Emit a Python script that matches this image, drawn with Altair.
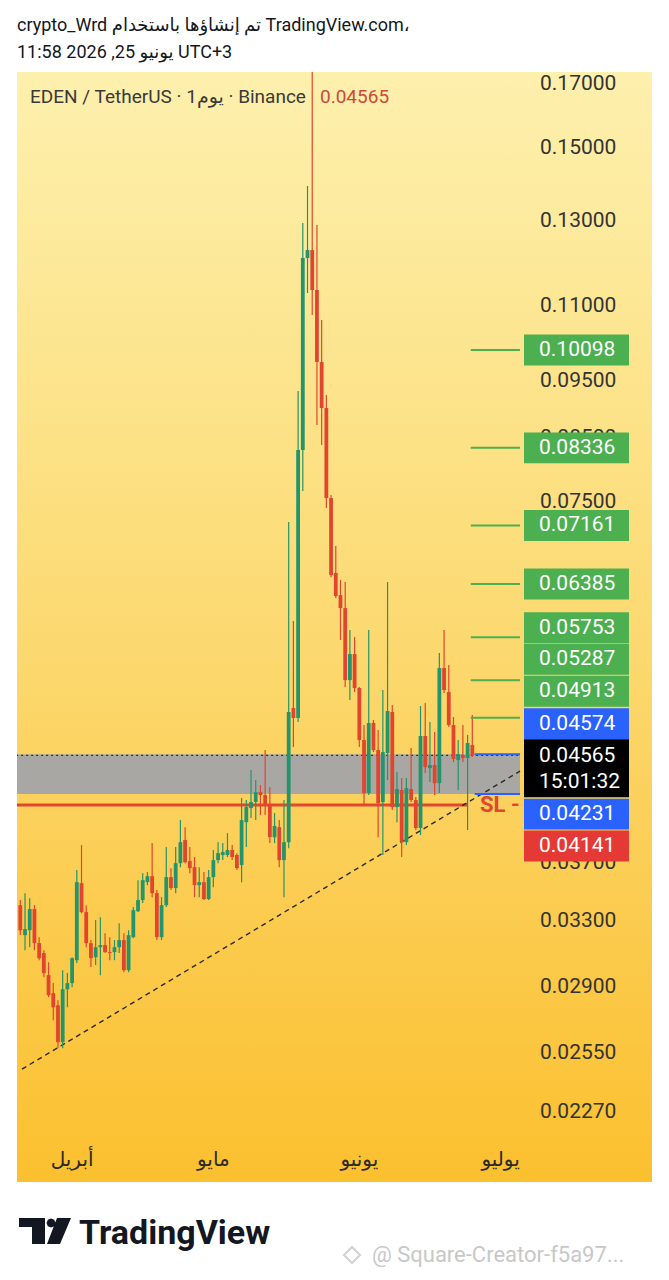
import altair as alt
import pandas as pd
import numpy as np

# ---------------- data ----------------
dates = pd.date_range("2026-03-21", "2026-06-25", freq="D").strftime("%Y-%m-%d").tolist()

opens = [0.03404, 0.03210, 0.03241, 0.03378, 0.03160, 0.03099, 0.02968, 0.02865, 0.02798, 0.02603,
         0.02887, 0.02922, 0.03056, 0.03554, 0.03358, 0.03160, 0.03074, 0.03135, 0.03148, 0.03105,
         0.03105, 0.03135, 0.03179, 0.02997, 0.03197, 0.03364, 0.03438, 0.03561, 0.03603, 0.03485,
         0.03197, 0.03404, 0.03596, 0.03520, 0.03696, 0.03867, 0.03711, 0.03667, 0.03540, 0.03561,
         0.03445, 0.03596, 0.03718, 0.03755, 0.03755, 0.03792, 0.03755, 0.03682, 0.04005, 0.04117,
         0.04166, 0.04248, 0.04223, 0.04141, 0.03889, 0.03966, 0.03718, 0.03851, 0.05008, 0.04911,
         0.08301, 0.12090, 0.12281, 0.11356, 0.09862, 0.09013, 0.07556, 0.06524, 0.06248, 0.06091,
         0.05290, 0.05566, 0.05208, 0.04704, 0.04240, 0.04863, 0.04612, 0.04166, 0.04585, 0.04969,
         0.04125, 0.04265, 0.03851, 0.04273, 0.04182, 0.03959, 0.04741, 0.04452, 0.04479, 0.04323,
         0.05416, 0.05167, 0.04844, 0.04523, 0.04567, 0.04541, 0.04658]
highs = [0.03438, 0.03485, 0.03451, 0.03404, 0.03197, 0.03117, 0.03044, 0.02922, 0.02826, 0.02997,
         0.02980, 0.03074, 0.03646, 0.03829, 0.03404, 0.03179, 0.03306, 0.03325, 0.03222, 0.03197,
         0.03179, 0.03286, 0.03222, 0.03241, 0.03391, 0.03575, 0.03624, 0.03632, 0.03844, 0.03506,
         0.03458, 0.03814, 0.03660, 0.03814, 0.04021, 0.03966, 0.03814, 0.03740, 0.03667, 0.03632,
         0.03646, 0.03792, 0.03851, 0.03844, 0.03920, 0.03829, 0.03769, 0.04198, 0.04182, 0.04435,
         0.04349, 0.04307, 0.04612, 0.04290, 0.04077, 0.04021, 0.04182, 0.07209, 0.05938, 0.09318,
         0.12948, 0.13922, 0.17850, 0.12897, 0.10708, 0.09245, 0.07600, 0.06878, 0.06435, 0.06410,
         0.05834, 0.05755, 0.05218, 0.04844, 0.05834, 0.04892, 0.04797, 0.05188, 0.06410, 0.05037,
         0.04418, 0.04366, 0.04366, 0.04630, 0.04207, 0.05028, 0.05057, 0.04872, 0.04778, 0.05577,
         0.05834, 0.05448, 0.04921, 0.04704, 0.04844, 0.04750, 0.04940]
lows = [0.03210, 0.03117, 0.03135, 0.03117, 0.03056, 0.02956, 0.02843, 0.02717, 0.02572, 0.02572,
        0.02787, 0.02899, 0.03039, 0.03350, 0.03135, 0.03015, 0.03027, 0.02968, 0.03099, 0.03056,
        0.03056, 0.03099, 0.02985, 0.02985, 0.03191, 0.03358, 0.03418, 0.03540, 0.03458, 0.03179,
        0.03179, 0.03391, 0.03506, 0.03485, 0.03667, 0.03696, 0.03624, 0.03458, 0.03458, 0.03438,
        0.03438, 0.03526, 0.03696, 0.03718, 0.03740, 0.03718, 0.03646, 0.03561, 0.03814, 0.04037,
        0.04021, 0.04061, 0.04061, 0.03844, 0.03844, 0.03667, 0.03458, 0.03806, 0.04640, 0.04872,
        0.07660, 0.11289, 0.10813, 0.08717, 0.08383, 0.07409, 0.06470, 0.06212, 0.05721, 0.05218,
        0.05087, 0.05167, 0.04640, 0.04141, 0.04223, 0.04594, 0.03889, 0.03755, 0.04349, 0.04101,
        0.04005, 0.03740, 0.03829, 0.04166, 0.03943, 0.03905, 0.04409, 0.04332, 0.04223, 0.04240,
        0.05157, 0.04825, 0.04505, 0.04265, 0.04505, 0.03943, 0.04550]
closes = [0.03241, 0.03248, 0.03378, 0.03160, 0.03068, 0.02980, 0.02854, 0.02787, 0.02603, 0.02887,
          0.02922, 0.03068, 0.03561, 0.03358, 0.03160, 0.03068, 0.03135, 0.03148, 0.03105, 0.03099,
          0.03135, 0.03179, 0.02997, 0.03210, 0.03371, 0.03438, 0.03575, 0.03603, 0.03485, 0.03197,
          0.03404, 0.03596, 0.03520, 0.03696, 0.03851, 0.03703, 0.03660, 0.03540, 0.03561, 0.03445,
          0.03596, 0.03718, 0.03769, 0.03777, 0.03792, 0.03740, 0.03660, 0.04021, 0.04125, 0.04166,
          0.04248, 0.04223, 0.04141, 0.03889, 0.03974, 0.03718, 0.03851, 0.04969, 0.04911, 0.08301,
          0.12090, 0.12281, 0.11356, 0.09862, 0.09013, 0.07556, 0.06498, 0.06236, 0.06091, 0.05290,
          0.05566, 0.05208, 0.04704, 0.04240, 0.04863, 0.04612, 0.04157, 0.04594, 0.04979, 0.04125,
          0.04273, 0.03851, 0.04281, 0.04182, 0.03959, 0.04741, 0.04461, 0.04479, 0.04323, 0.05416,
          0.05188, 0.04844, 0.04532, 0.04576, 0.04541, 0.04676, 0.04565]

month_names = ["أبريل", "مايو", "يونيو", "يوليو"]
month_starts = ["2026-04-01", "2026-05-01", "2026-06-01", "2026-07-01"]

axis_ticks = [0.17, 0.15, 0.13, 0.11, 0.095, 0.085, 0.075, 0.037, 0.033, 0.029, 0.0255, 0.0227]

target_prices = [0.10098, 0.08336, 0.07161, 0.06385, 0.05753, 0.05287, 0.04913]
entry_price = 0.04574
zone_low = 0.04231
stop_loss = 0.04141
last_price = 0.04565
countdown = "15:01:32"

trend_dates = ["2026-03-21T08:38", "2026-07-05T03:07"]
trend_prices = [0.02469, 0.04426]

header_1 = "crypto_Wrd تم إنشاؤها باستخدام TradingView.com،"
header_2 = "11:58 2026 ,25 يونيو UTC+3"
legend_text = "EDEN / TetherUS · 1يوم · Binance"
watermark = "@ Square-Creator-f5a97..."

# ---------------- layout / style ----------------
W, H = 635, 1110
ORIGIN = pd.Timestamp("2026-04-01")


def day(s):
    return (pd.Timestamp(s) - ORIGIN) / pd.Timedelta(days=1)


view_start, view_end = "2026-03-21T08:38", "2026-08-01T02:24"
tool_start, tool_end = "2026-06-24T16:00", "2026-07-05T03:07"
blue_start = "2026-06-25T12:00"
sl_end = "2026-06-24T01:00"
far_left = "2026-03-01"

UP, DOWN = "#22956c", "#e2452f"
GREEN, BLUE, REDBOX = "#4caf50", "#2962ff", "#e53935"
FONT = "Roboto, DejaVu Sans"

xscale = alt.Scale(domain=[day(view_start), day(view_end)], nice=False, zero=False)
yscale = alt.Scale(type="log", domain=[0.019793, 0.17405], nice=False)


def X(f):
    return alt.X(f, type="quantitative", scale=xscale, axis=None)


def Y(f):
    return alt.Y(f, type="quantitative", scale=yscale, axis=None)


df = pd.DataFrame(dict(date=dates, open=opens, high=highs, low=lows, close=closes))
df["day"] = [day(s) for s in df["date"]]
df["dir"] = np.where(df["close"] >= df["open"], "up", "down")
color = alt.Color("dir:N", scale=alt.Scale(domain=["up", "down"], range=[UP, DOWN]), legend=None)

one = pd.DataFrame({"a": [0]})

bg = alt.Chart(one).mark_rect(
    fill=alt.Gradient(gradient="linear", x1=0, x2=0, y1=0, y2=1,
                      stops=[alt.GradientStop(color="#fdf0ad", offset=0),
                             alt.GradientStop(color="#fcdc78", offset=0.45),
                             alt.GradientStop(color="#fbcc50", offset=0.75),
                             alt.GradientStop(color="#fbc02f", offset=1)])
).encode(x=alt.value(0), x2=alt.value(W), y=alt.value(0), y2=alt.value(H))

zone = alt.Chart(pd.DataFrame({"x0": [day(far_left)], "x1": [day(tool_end)],
                               "top": [entry_price], "bottom": [zone_low]})).mark_rect(
    color="#a8a7a3", clip=True).encode(x=X("x0"), x2="x1", y=Y("top"), y2="bottom")

last_line = alt.Chart(pd.DataFrame({"x0": [day(far_left)], "x1": [day(tool_end)], "p": [last_price]})).mark_rule(
    color="#111111", strokeDash=[2, 3], strokeWidth=1, clip=True).encode(x=X("x0"), x2="x1", y=Y("p"))

sl_line = alt.Chart(pd.DataFrame({"x0": [day(far_left)], "x1": [day(sl_end)], "p": [stop_loss]})).mark_rule(
    color="#e2462f", strokeWidth=3, clip=True).encode(x=X("x0"), x2="x1", y=Y("p"))

trend = alt.Chart(pd.DataFrame({"d": [day(s) for s in trend_dates], "p": trend_prices})).mark_line(
    color="#2a2a2a", strokeDash=[5, 4], strokeWidth=1.4, clip=True).encode(x=X("d"), y=Y("p"))

base = alt.Chart(df)
wicks = base.mark_rule(strokeWidth=1.2, clip=True).encode(x=X("day"), y=Y("low"), y2="high", color=color)
bodies = base.mark_bar(width=3.8, clip=True).encode(x=X("day"), y=Y("open"), y2="close", color=color)

months = alt.Chart(pd.DataFrame({"d": [day(s) for s in month_starts], "m": month_names})).mark_text(
    align="center", baseline="middle", font="DejaVu Sans", fontSize=20, color="#2b2b2b").encode(
    x=X("d"), y=alt.value(1088), text="m:N")

tgt = alt.Chart(pd.DataFrame({"x0": day(tool_start), "x1": day(tool_end), "p": target_prices})).mark_rule(
    color=GREEN, strokeWidth=2).encode(x=X("x0"), x2="x1", y=Y("p"))
blue = alt.Chart(pd.DataFrame({"x0": day(blue_start), "x1": day(tool_end), "p": [entry_price, zone_low]})).mark_rule(
    color=BLUE, strokeWidth=2).encode(x=X("x0"), x2="x1", y=Y("p"))

ticks = alt.Chart(pd.DataFrame({"v": axis_ticks})).mark_text(
    align="left", baseline="middle", font=FONT, fontSize=21, color="#333333").encode(
    x=alt.value(523), y=Y("v"), text=alt.Text("v:Q", format=".5f"))

# price label boxes on the scale (price, colour, vertical nudge in px to avoid overlap)
label_prices = target_prices + [entry_price, zone_low, stop_loss]
label_colors = [GREEN] * 7 + [BLUE, BLUE, REDBOX]
label_nudge_px = [0, 0, 0, 0, -9.5, -21, -26.5, -30.5, 20, 41]
BOX = "M-1,-0.295L1,-0.295L1,0.295L-1,0.295Z"
BOX2 = "M-1,-0.552L1,-0.552L1,0.552L-1,0.552Z"

box_layers = []
for p, c, n in zip(label_prices, label_colors, label_nudge_px):
    d1 = alt.Chart(pd.DataFrame({"p": [p], "t": [f"{p:.5f}"]}))
    box_layers.append(d1.mark_point(shape=BOX, size=11025, filled=True, fill=c, opacity=1,
                                    strokeWidth=0, yOffset=n).encode(x=alt.value(559.5), y=Y("p")))
    box_layers.append(d1.mark_text(align="left", baseline="middle", font=FONT, fontSize=21,
                                   color="white", yOffset=n).encode(x=alt.value(522), y=Y("p"), text="t:N"))

dl = alt.Chart(pd.DataFrame({"p": [last_price], "t": [f"{last_price:.5f}"], "c": [countdown]}))
box_layers.append(dl.mark_point(shape=BOX2, size=11025, filled=True, fill="#000000", opacity=1,
                                strokeWidth=0, yOffset=13).encode(x=alt.value(559.5), y=Y("p")))
box_layers.append(dl.mark_text(align="left", baseline="middle", font=FONT, fontSize=21,
                               color="white", yOffset=1).encode(x=alt.value(522), y=Y("p"), text="t:N"))
box_layers.append(dl.mark_text(align="left", baseline="middle", font=FONT, fontSize=21,
                               color="white", yOffset=27).encode(x=alt.value(522), y=Y("p"), text="c:N"))

sl_text = alt.Chart(pd.DataFrame({"p": [stop_loss], "t": ["SL -"]})).mark_text(
    align="left", baseline="middle", font=FONT, fontSize=22, fontWeight="bold", color="#e2462f").encode(
    x=alt.value(463), y=Y("p"), text="t:N")


def txt(t, x, y, **kw):
    return alt.Chart(pd.DataFrame({"t": [t]})).mark_text(align="left", **kw).encode(
        x=alt.value(x), y=alt.value(y), text="t:N")


legend = txt(legend_text, 13, 25, baseline="middle", font=FONT, fontSize=19, color="#3a3a3a")
legend_price = txt(f"{last_price:.5f}", 303, 25, baseline="middle", font=FONT, fontSize=19, color="#cc4a3a")
h1 = txt(header_1, 0, -46, baseline="middle", font=FONT, fontSize=18, color="#131722")
h2 = txt(header_2, 0, -19, baseline="middle", font=FONT, fontSize=18, color="#131722")

LOGO = ("M-1,-0.5L0,-0.5L0,0.5L-0.5,0.5L-0.5,-0.154L-1,-0.154Z "
        "M0.404,-0.308L0.353,-0.186L0.231,-0.135L0.109,-0.186L0.058,-0.308L0.109,-0.43L0.231,-0.481L0.353,-0.43Z "
        "M0.462,-0.5L1,-0.5L0.577,0.5L0.077,0.5Z")
logo = alt.Chart(one).mark_point(shape=LOGO, size=2704, filled=True, fill="#131722", opacity=1,
                                 strokeWidth=0).encode(x=alt.value(28), y=alt.value(1159))
tv = txt("TradingView", 62, 1172, baseline="alphabetic", font="Roboto", fontWeight="bold",
         fontSize=34, color="#131722")
wm_icon = alt.Chart(one).mark_point(shape="diamond", size=260, filled=False, stroke="#d2d2d2",
                                    strokeWidth=2, opacity=1).encode(x=alt.value(335), y=alt.value(1183))
wm = txt(watermark, 355, 1183, baseline="middle", font=FONT, fontSize=22, color="#c8c8c8")

chart = alt.layer(
    bg, zone, last_line, sl_line, trend, wicks, bodies, months, tgt, blue, ticks,
    *box_layers, sl_text, legend, legend_price, h1, h2, logo, tv, wm_icon, wm
).properties(
    width=W, height=H,
    autosize=alt.AutoSizeParams(type="none"),
    padding={"left": 9, "top": 64, "right": 9, "bottom": 92},
    background="white",
).configure_view(stroke=None)

chart.save("out.html", embed_options={"renderer": "svg", "actions": False})
